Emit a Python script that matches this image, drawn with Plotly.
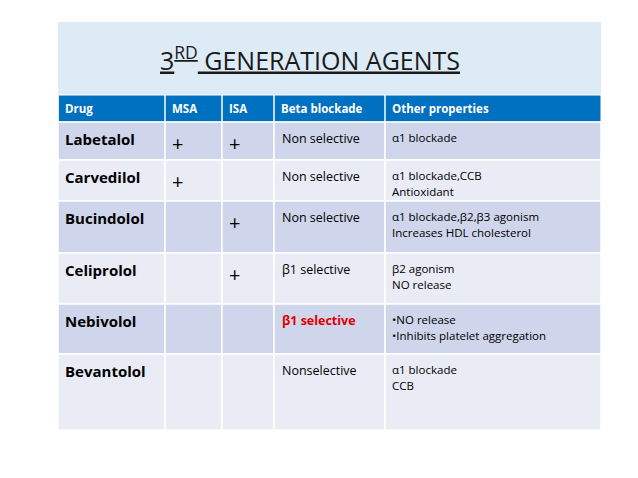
import plotly.graph_objects as go

headers = ["Drug", "MSA", "ISA", "Beta blockade", "Other properties"]
drugs = ["Labetalol", "Carvedilol", "Bucindolol", "Celiprolol", "Nebivolol", "Bevantolol"]
msa = ["+", "+", "", "", "", ""]
isa = ["+", "", "+", "+", "", ""]
beta = ["Non selective", "Non selective", "Non selective", "β1 selective", "β1 selective", "Nonselective"]
other = [["α1 blockade"], ["α1 blockade,CCB", "Antioxidant"],
         ["α1 blockade,β2,β3 agonism", "Increases HDL cholesterol"],
         ["β2 agonism", "NO release"], ["•NO release", "•Inhibits platelet aggregation"],
         ["α1 blockade", "CCB"]]

col_x = [58, 165, 222, 274, 385, 601]
row_y = [95, 122, 160, 201, 253, 304, 354, 430]
OFF = 8  # page body margin

fig = go.Figure()
fig.update_xaxes(range=[OFF, 638 + OFF], visible=False, fixedrange=True)
fig.update_yaxes(range=[478 + OFF, OFF], visible=False, fixedrange=True)
shapes = [dict(type="rect", x0=58, x1=601, y0=22, y1=95, fillcolor="#DDEBF7", line_width=0, layer="below")]
shapes.append(dict(type="rect", x0=58, x1=601, y0=row_y[0], y1=row_y[1], fillcolor="#0070C0", line=dict(color="white", width=1)))
for i in range(len(drugs)):
    fill = "#CFD5EA" if i % 2 == 0 else "#E9EBF5"
    for c in range(5):
        shapes.append(dict(type="rect", x0=col_x[c], x1=col_x[c+1], y0=row_y[i+1], y1=row_y[i+2],
                           fillcolor=fill, line=dict(color="white", width=1.5)))
for c in range(5):
    shapes.append(dict(type="line", x0=col_x[c], x1=col_x[c], y0=row_y[0], y1=row_y[1], line=dict(color="white", width=1.5)))
fig.update_layout(shapes=shapes)

ann = []
ann.append(dict(x=310, y=58, text="<u>3<sup>RD</sup> GENERATION AGENTS</u>", showarrow=False,
                font=dict(size=25, color="#1a1a1a", family="Open Sans")))
for c, h in enumerate(headers):
    ann.append(dict(x=col_x[c]+5, y=(row_y[0]+row_y[1])/2, text="<b>"+h+"</b>", xanchor="left", showarrow=False,
                    font=dict(size=11.5, color="white", family="Open Sans")))
for i in range(len(drugs)):
    top = row_y[i+1]
    ann.append(dict(x=63, y=top+5, text="<b>"+drugs[i]+"</b>", xanchor="left", yanchor="top", showarrow=False,
                    font=dict(size=15, color="black", family="Open Sans")))
    for c, arr in ((1, msa), (2, isa)):
        if arr[i]:
            ann.append(dict(x=col_x[c]+12, y=top+6, text=arr[i], xanchor="center", yanchor="top", showarrow=False,
                            font=dict(size=20, color="black", family="Open Sans")))
    red = i == 4
    ann.append(dict(x=280, y=top+6, text=("<b>"+beta[i]+"</b>") if red else beta[i], xanchor="left", yanchor="top",
                    showarrow=False, font=dict(size=12.5, color="#E00000" if red else "black", family="Open Sans")))
    for k, line in enumerate(other[i]):
        ann.append(dict(x=390, y=top+6+k*16, text=line, xanchor="left", yanchor="top", align="left", showarrow=False,
                        font=dict(size=11.5, color="black", family="Open Sans")))
fig.update_layout(annotations=ann, width=638, height=478, margin=dict(l=0, r=0, t=0, b=0),
                  plot_bgcolor="white", paper_bgcolor="white", showlegend=False)
fig.write_html("out.html")
